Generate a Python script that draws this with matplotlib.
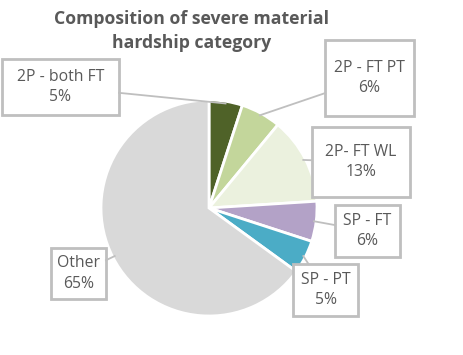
import numpy as np
import matplotlib.pyplot as plt
from matplotlib.patches import Rectangle
from matplotlib.lines import Line2D

labels = ["2P - both FT", "2P - FT PT", "2P- FT WL", "SP - FT", "SP - PT", "Other"]
values = [5, 6, 13, 6, 5, 65]
colors = ["#4f6228", "#c3d69b", "#ebf1de", "#b3a2c7", "#4bacc6", "#d9d9d9"]

# label boxes in pixels from top-left: x0, y0, w, h
boxes = [(2, 59, 117, 56), (325, 40, 89, 76), (312, 127, 98, 70),
         (335, 205, 65, 52), (293, 264, 65, 52), (51, 248, 55, 51)]

W, H = 463, 355
plt.rcParams['font.family'] = ['Open Sans', 'DejaVu Sans']
fig = plt.figure(figsize=(W / 100, H / 100), dpi=100)

cx, cy, r = 209, 208, 108
ax = fig.add_axes([(cx - r) / W, (H - cy - r) / H, 2 * r / W, 2 * r / H])
wedges, _ = ax.pie(values, colors=colors, startangle=90, counterclock=False,
                   wedgeprops=dict(edgecolor='white', linewidth=2))
ax.set_xlim(-1, 1)
ax.set_ylim(-1, 1)
ax.set_aspect('equal')

fig.text(192 / W, 1 - 31 / H, "Composition of severe material\nhardship category",
         ha='center', va='center', fontsize=12.7, fontweight='bold', color='#595959',
         linespacing=1.45)

total = sum(values)
fig.canvas.draw()
for lab, v, w, (bx, by, bw, bh) in zip(labels, values, wedges, boxes):
    ang = np.deg2rad((w.theta1 + w.theta2) / 2)
    px, py = ax.transData.transform((np.cos(ang) * 0.98, np.sin(ang) * 0.98))
    # box center in figure pixels (bottom-left origin)
    bcx, bcy = bx + bw / 2, H - (by + bh / 2)
    dx, dy = px - bcx, py - bcy
    t = min(abs((bw / 2) / dx) if dx else 1e9, abs((bh / 2) / dy) if dy else 1e9)
    ex, ey = bcx + dx * t, bcy + dy * t
    fig.add_artist(Line2D([ex / W, px / W], [ey / H, py / H], color='#bfbfbf', lw=1.3,
                          transform=fig.transFigure))
    fig.add_artist(Rectangle((bx / W, 1 - (by + bh) / H), bw / W, bh / H,
                             facecolor='white', edgecolor='#bfbfbf', lw=2,
                             transform=fig.transFigure))
    fig.text(bcx / W, bcy / H, f"{lab}\n{round(100 * v / total)}%", ha='center',
             va='center', fontsize=11.3, color='#595959', linespacing=1.4)

fig.savefig("out.png", dpi=100)
